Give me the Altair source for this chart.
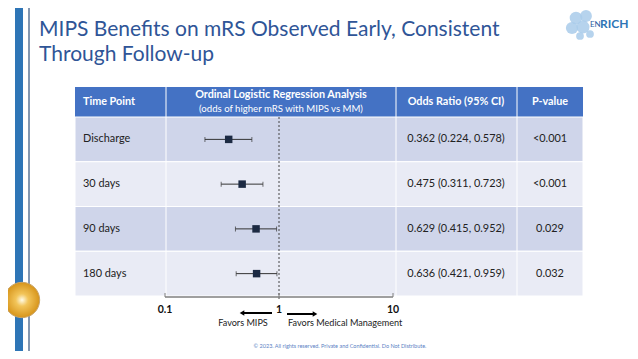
import altair as alt
import pandas as pd

# ---------------- data ----------------
time_points = ["Discharge", "30 days", "90 days", "180 days"]
odds_ratio = [0.362, 0.475, 0.629, 0.636]
ci_low = [0.224, 0.311, 0.415, 0.421]
ci_high = [0.578, 0.723, 0.952, 0.959]
p_values = ["<0.001", "<0.001", "0.029", "0.032"]
row_shade = ["#cfd5ea", "#e9ebf5", "#cfd5ea", "#e9ebf5"]
axis_ticks = [0.1, 1, 10]
axis_labels = ["0.1", "1", "10"]

W, H = 622, 343
FONT = "Lato"


def X(px):
    return px - 8


def Y(py):
    return py - 8


rows = pd.DataFrame({
    "time": time_points,
    "or": odds_ratio,
    "lo": ci_low,
    "hi": ci_high,
    "p": p_values,
    "fill": row_shade,
    "ortext": [f"{o:.3f} ({l:.3f}, {h:.3f})" for o, l, h in zip(odds_ratio, ci_low, ci_high)],
})
ticks = pd.DataFrame({"t": axis_ticks, "label": axis_labels})


def xlog():
    return alt.Scale(type="log", domain=[0.1, 10], range=[X(165), X(393)])


def yband():
    return alt.Scale(domain=time_points, range=[Y(117), Y(296)], paddingInner=0, paddingOuter=0)


dummy = pd.DataFrame({"d": [0]})
base = alt.Chart(dummy)
rbase = alt.Chart(rows)

layers = []

# ---- slide decorations ----
layers.append(base.mark_rect(color="#2e75b6").encode(
    x=alt.value(X(15)), x2=alt.value(X(23)), y=alt.value(0), y2=alt.value(H)))
layers.append(base.mark_rect(color="#8497b0").encode(
    x=alt.value(X(28)), x2=alt.value(X(30)), y=alt.value(0), y2=alt.value(H)))
layers.append(base.mark_circle(
    size=1250, opacity=1, stroke="#c9a56a", strokeWidth=1,
    fill=alt.RadialGradient(gradient="radial",
                            stops=[alt.GradientStop(offset=0, color="#fffbe8"),
                                   alt.GradientStop(offset=0.35, color="#f2c55a"),
                                   alt.GradientStop(offset=1, color="#d7941a")])
).encode(x=alt.value(X(22)), y=alt.value(Y(300))))

# title
layers.append(base.mark_text(text="MIPS Benefits on mRS Observed Early, Consistent", align="left",
                             baseline="alphabetic", font=FONT, fontSize=21, fontWeight="normal",
                             color="#2f5597").encode(x=alt.value(X(39)), y=alt.value(Y(36))))
layers.append(base.mark_text(text="Through Follow-up", align="left",
                             baseline="alphabetic", font=FONT, fontSize=21, fontWeight="normal",
                             color="#2f5597").encode(x=alt.value(X(39)), y=alt.value(Y(61))))

# logo
for lx, ly, s in [(576, 18, 160), (586, 16, 140), (572, 28, 150), (583, 27, 170), (590, 34, 60), (580, 36, 60)]:
    layers.append(base.mark_circle(size=s, color="#a9cbea", opacity=0.85).encode(
        x=alt.value(X(lx)), y=alt.value(Y(ly))))
layers.append(base.mark_text(text="EN", align="left", baseline="alphabetic", font=FONT,
                             fontSize=8, color="#2e5d9e").encode(x=alt.value(X(590)), y=alt.value(Y(27))))
layers.append(base.mark_text(text="RICH", align="left", baseline="alphabetic", font=FONT,
                             fontSize=12, fontWeight="bold", color="#2e75b6").encode(
    x=alt.value(X(600)), y=alt.value(Y(28))))

# ---- table ----
layers.append(base.mark_rect(color="#4472c4").encode(
    x=alt.value(X(75)), x2=alt.value(X(583)), y=alt.value(Y(87)), y2=alt.value(Y(117))))
layers.append(rbase.mark_rect(stroke="white", strokeWidth=1).encode(
    y=alt.Y("time:N", scale=yband(), axis=None),
    x=alt.value(X(75)), x2=alt.value(X(583)),
    fill=alt.Fill("fill:N", scale=None)))
for cx in [166, 396, 517]:
    layers.append(base.mark_rule(color="white", strokeWidth=1).encode(
        x=alt.value(X(cx)), y=alt.value(Y(87)), y2=alt.value(Y(296))))

hdr = dict(font=FONT, fontSize=10.8, fontWeight="bold", color="white", baseline="middle")
layers.append(base.mark_text(text="Time Point", align="left", **hdr).encode(
    x=alt.value(X(83)), y=alt.value(Y(102))))
layers.append(base.mark_text(text="Ordinal Logistic Regression Analysis", align="center", **hdr).encode(
    x=alt.value(X(281)), y=alt.value(Y(95))))
layers.append(base.mark_text(text="(odds of higher mRS with MIPS vs MM)", align="center", font=FONT,
                             fontSize=9.6, color="white", baseline="middle").encode(
    x=alt.value(X(281)), y=alt.value(Y(109))))
layers.append(base.mark_text(text="Odds Ratio (95% CI)", align="center", **hdr).encode(
    x=alt.value(X(456)), y=alt.value(Y(102))))
layers.append(base.mark_text(text="P-value", align="center", **hdr).encode(
    x=alt.value(X(550)), y=alt.value(Y(102))))

cell = dict(font=FONT, fontSize=10.9, color="#222222", baseline="middle")
layers.append(rbase.mark_text(align="left", **cell).encode(
    y=alt.Y("time:N", scale=yband(), axis=None), x=alt.value(X(83)), text="time:N"))
layers.append(rbase.mark_text(align="center", **cell).encode(
    y=alt.Y("time:N", scale=yband(), axis=None), x=alt.value(X(456)), text="ortext:N"))
layers.append(rbase.mark_text(align="center", **cell).encode(
    y=alt.Y("time:N", scale=yband(), axis=None), x=alt.value(X(550)), text="p:N"))

# ---- forest plot ----
layers.append(alt.Chart(pd.DataFrame({"one": [1]})).mark_rule(
    color="#444444", strokeDash=[2, 2], strokeWidth=1).encode(
    x=alt.X("one:Q", scale=xlog(), axis=None), y=alt.value(Y(117)), y2=alt.value(Y(300))))
layers.append(rbase.mark_rule(color="#333333", strokeWidth=1).encode(
    x=alt.X("lo:Q", scale=xlog(), axis=None), x2="hi:Q",
    y=alt.Y("time:N", scale=yband(), axis=None)))
layers.append(rbase.transform_fold(["lo", "hi"], as_=["k", "v"]).mark_tick(
    orient="vertical", size=5, thickness=1, color="#333333").encode(
    x=alt.X("v:Q", scale=xlog(), axis=None),
    y=alt.Y("time:N", scale=yband(), axis=None)))
layers.append(rbase.mark_square(size=56, color="#1c2a43", opacity=1).encode(
    x=alt.X("or:Q", scale=xlog(), axis=None),
    y=alt.Y("time:N", scale=yband(), axis=None)))

# axis
layers.append(alt.Chart(pd.DataFrame({"a": [axis_ticks[0]], "b": [axis_ticks[-1]]})).mark_rule(
    color="#7f7f7f", strokeWidth=1.5).encode(
    x=alt.X("a:Q", scale=xlog(), axis=None), x2="b:Q", y=alt.value(Y(297))))
layers.append(alt.Chart(ticks).mark_rule(color="#7f7f7f", strokeWidth=1).encode(
    x=alt.X("t:Q", scale=xlog(), axis=None), y=alt.value(Y(293)), y2=alt.value(Y(297))))
layers.append(alt.Chart(ticks).mark_text(font=FONT, fontSize=10.5, fontWeight="bold",
                                          color="#111111", baseline="middle").encode(
    x=alt.X("t:Q", scale=xlog(), axis=None), y=alt.value(Y(310)), text="label:N"))

# favours arrows
layers.append(base.mark_rule(color="#000000", strokeWidth=2).encode(
    x=alt.value(X(244)), x2=alt.value(X(272)), y=alt.value(Y(313))))
layers.append(base.mark_point(shape="triangle-left", filled=True, size=28, color="#000000",
                              opacity=1).encode(x=alt.value(X(242)), y=alt.value(Y(313))))
layers.append(base.mark_rule(color="#000000", strokeWidth=2).encode(
    x=alt.value(X(287)), x2=alt.value(X(313)), y=alt.value(Y(314))))
layers.append(base.mark_point(shape="triangle-right", filled=True, size=28, color="#000000",
                              opacity=1).encode(x=alt.value(X(315)), y=alt.value(Y(314))))
layers.append(base.mark_text(text="Favors MIPS", align="center", baseline="middle", font=FONT,
                             fontSize=9.1, color="#222222").encode(x=alt.value(X(243)), y=alt.value(Y(323))))
layers.append(base.mark_text(text="Favors Medical Management", align="left", baseline="middle", font=FONT,
                             fontSize=9.1, color="#222222").encode(x=alt.value(X(288)), y=alt.value(Y(323))))

# footer
layers.append(base.mark_text(text="© 2023. All rights reserved. Private and Confidential. Do Not Distribute.",
                             align="center", baseline="middle", font=FONT, fontSize=5.5,
                             color="#5b7fc4").encode(x=alt.value(X(340)), y=alt.value(Y(346))))

chart = alt.layer(*layers).resolve_scale(x="independent", y="independent").properties(
    width=W, height=H, autosize="none", padding=0, background="white"
).configure_view(stroke=None)

chart.save("out.html", embed_options={"renderer": "svg", "actions": False})
